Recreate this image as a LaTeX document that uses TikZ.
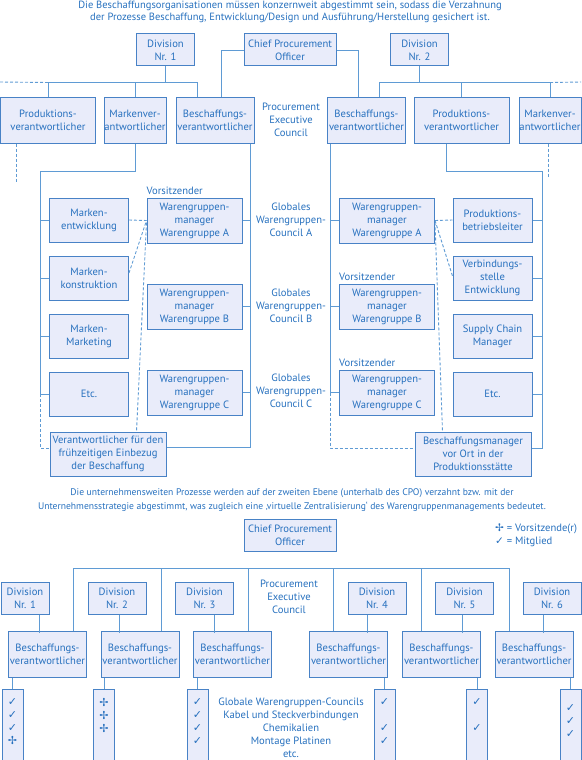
\documentclass[tikz,border=0pt]{standalone}
\usepackage{fontspec}
\setmainfont{PT Sans}
\newfontfamily\symfont{DejaVu Sans}
\usepackage{tikz}
\usetikzlibrary{positioning}

\definecolor{linecol}{RGB}{95,155,212}
\definecolor{boxcol}{RGB}{72,130,198}
\definecolor{fillcol}{RGB}{233,236,250}
\definecolor{textcol}{RGB}{38,112,190}

\begin{document}
\begin{tikzpicture}[x=1pt,y=-1pt,
  font=\fontsize{10.6}{13}\selectfont, text=textcol,
  box/.style={draw=boxcol,fill=fillcol,line width=1pt,align=center,inner sep=1pt},
  div/.style={box,minimum width=58,minimum height=32},
  cpo/.style={box,minimum width=92,minimum height=32},
  role/.style={box,minimum width=78,minimum height=46},
  wide/.style={box,minimum width=95,minimum height=46},
  col/.style={box,minimum width=79,minimum height=44},
  wgm/.style={box,minimum width=95,minimum height=45},
  low/.style={box,minimum width=116,minimum height=44},
  chk/.style={box,minimum width=21,minimum height=80,anchor=north},
  marks/.style={align=center,inner sep=0pt,font=\symfont\fontsize{11}{13}\selectfont},
  conn/.style={draw=linecol,line width=0.9pt},
  dline/.style={conn,dashed,dash pattern=on 3pt off 2pt},
  txt/.style={align=center,inner sep=0pt},
  lbl/.style={anchor=south west,inner xsep=0pt,inner ysep=3pt},
  headtxt/.style={txt,font=\fontsize{10.5}{12}\selectfont}]

\useasboundingbox (0,0) rectangle (581,760);

% ---------- upper chart ----------
\node[headtxt] (Head_1) at (290,12) {Die Beschaffungsorganisationen müssen konzernweit abgestimmt sein, sodass die Verzahnung\\der Prozesse Beschaffung, Entwicklung/Design und Ausführung/Herstellung gesichert ist.};

\node[div] (Div_1) at (165.5,50) {Division\\Nr. 1};
\node[cpo] (CPO_1) at (290,50) {Chief Procurement\\Officer};
\node[div] (Div_2) at (419.5,50) {Division\\Nr. 2};

\node[wide] (Prod_L) at (48,120) {Produktions-\\verantwortlicher};
\node[box,minimum width=62,minimum height=46,inner xsep=0pt] (Mark_L) at (135,120) {Markenver-\\antwortlicher};
\node[role] (Besch_L) at (215,120) {Beschaffungs-\\verantwortlicher};
\node[txt] (PEC_1) at (291,120) {Procurement\\Executive\\Council};
\node[role] (Besch_R) at (366.5,120) {Beschaffungs-\\verantwortlicher};
\node[wide] (Prod_R) at (461.5,120) {Produktions-\\verantwortlicher};
\node[box,minimum width=62,minimum height=46,inner xsep=0pt] (Mark_R) at (550,120) {Markenver-\\antwortlicher};

\coordinate (Edge_L) at (0,82);
\coordinate (Edge_R) at (581,82);
\coordinate (Stub_L) at (16,182);
\coordinate (Stub_R) at (548,178);

\draw[conn] (Div_1.south) -- ++(0,16) coordinate (Bus_1);
\draw[conn] (Prod_L.north) -- (Prod_L.north |- Bus_1) -| ([xshift=22pt]Besch_L.north west);
\draw[conn] (Mark_L.north) -- (Mark_L.north |- Bus_1);
\draw[conn] (CPO_1.west) -| ([xshift=46pt]Besch_L.north west);
\draw[conn] (CPO_1.east) -| ([xshift=31pt]Besch_R.north west);
\draw[conn] (Div_2.south) -- ++(0,16) coordinate (Bus_2);
\draw[conn] ([xshift=52pt]Besch_R.north west) |- (Mark_R.north |- Bus_2) -- (Mark_R.north);
\draw[conn] (Prod_R.north) -- (Prod_R.north |- Bus_2);
\draw[dline] (Prod_L.north |- Bus_1) -- (Edge_L);
\draw[dline] (Mark_R.north |- Bus_2) -- (Edge_R);
\draw[dline] (Prod_L.south -| Stub_L) -- (Stub_L);
\draw[dline] (Mark_R.south -| Stub_R) -- (Stub_R);

% left division
\node[col] (Mark_E) at (89,220) {Marken-\\entwicklung};
\node[col] (Mark_K) [below=13pt of Mark_E] {Marken-\\konstruktion};
\node[col] (Mark_M) [below=13pt of Mark_K] {Marken-\\Marketing};
\node[col] (Etc_L) [below=13pt of Mark_M] {Etc.};
\node[low] (Verantw) at (108,454) {Verantwortlicher für den\\frühzeitigen Einbezug\\der Beschaffung};

\node[wgm] (WGM_LA) at (194.5,220.5) {Warengruppen-\\manager\\Warengruppe A};
\node[wgm] (WGM_LB) [below=40pt of WGM_LA] {Warengruppen-\\manager\\Warengruppe B};
\node[wgm] (WGM_LC) [below=40pt of WGM_LB] {Warengruppen-\\manager\\Warengruppe C};
\node[lbl] (Vors_LA) at (WGM_LA.north west) {Vorsitzender};

% councils
\node[txt] (GWC_A) at (291,220) {Globales\\Warengruppen-\\Council A};
\node[txt] (GWC_B) at (291,306) {Globales\\Warengruppen-\\Council B};
\node[txt] (GWC_C) at (291,391) {Globales\\Warengruppen-\\Council C};

% right division
\node[wgm] (WGM_RA) at (387,220.5) {Warengruppen-\\manager\\Warengruppe A};
\node[wgm] (WGM_RB) [below=40pt of WGM_RA] {Warengruppen-\\manager\\Warengruppe B};
\node[wgm] (WGM_RC) [below=40pt of WGM_RB] {Warengruppen-\\manager\\Warengruppe C};
\node[lbl] (Vors_RB) at (WGM_RB.north west) {Vorsitzender};
\node[lbl] (Vors_RC) at (WGM_RC.north west) {Vorsitzender};

\node[col] (Prod_B) at (492.5,220) {Produktions-\\betriebsleiter};
\node[col] (Verb) [below=13pt of Prod_B] {Verbindungs-\\stelle\\Entwicklung};
\node[col] (SCM) [below=13pt of Verb] {Supply Chain\\Manager};
\node[col] (Etc_R) [below=13pt of SCM] {Etc.};
\node[low] (BM) at (473,454) {Beschaffungsmanager\\vor Ort in der\\Produktionsstätte};

% trunks
\coordinate (Trunk_L) at (40,171);
\coordinate (Trunk_C) at ([xshift=-4pt]Besch_L.south east);
\coordinate (Trunk_D) at ([xshift=3pt]Besch_R.south west);
\coordinate (Trunk_R) at (542,171);

\draw[conn] (Mark_L.south) |- (Trunk_L) |- (Etc_L.west);
\draw[conn] (Mark_E.west) -- (Mark_E.west -| Trunk_L);
\draw[conn] (Mark_K.west) -- (Mark_K.west -| Trunk_L);
\draw[conn] (Mark_M.west) -- (Mark_M.west -| Trunk_L);
\draw[dline] (Etc_L.west -| Trunk_L) |- ([yshift=6pt]Verantw.west);

\draw[conn] (Trunk_C) |- ([yshift=7pt]Verantw.east);
\draw[conn] (WGM_LA.east) -- (WGM_LA.east -| Trunk_C);
\draw[conn] (WGM_LB.east) -- (WGM_LB.east -| Trunk_C);
\draw[conn] (WGM_LC.east) -- (WGM_LC.east -| Trunk_C);

\draw[conn] (Trunk_D) |- (WGM_RC.west);
\draw[conn] (WGM_RA.west) -- (WGM_RA.west -| Trunk_D);
\draw[conn] (WGM_RB.west) -- (WGM_RB.west -| Trunk_D);
\draw[dline] (WGM_RC.west -| Trunk_D) |- ([yshift=6pt]BM.west);

\draw[conn] ([xshift=-15.5pt]Prod_R.south) |- (Trunk_R) |- ([yshift=6pt]BM.east);
\draw[conn] (Prod_B.east) -- (Prod_B.east -| Trunk_R);
\draw[conn] (Verb.east) -- (Verb.east -| Trunk_R);
\draw[conn] (SCM.east) -- (SCM.east -| Trunk_R);
\draw[conn] (Etc_R.east) -- (Etc_R.east -| Trunk_R);

% dotted links
\draw[dline] (Mark_E.east) -- (WGM_LA.west);
\draw[dline] ([yshift=5pt]Mark_K.east) -- (WGM_LA.west);
\draw[dline] ([yshift=-2pt]WGM_LA.west) -- ([xshift=87pt]Verantw.north west);
\draw[dline] (WGM_RA.east) -- (Prod_B.west);
\draw[dline] (WGM_RA.east) -- ([yshift=2pt]Verb.west);
\draw[dline] ([yshift=-2pt]WGM_RA.east) -- ([xshift=28pt]BM.north west);

% ---------- lower chart ----------
\node[headtxt,font=\fontsize{9.6}{13.5}\selectfont] (Head_2) at (292,500) {Die unternehmensweiten Prozesse werden auf der zweiten Ebene (unterhalb des CPO) verzahnt bzw. mit der\\Unternehmensstrategie abgestimmt, was zugleich eine ‚virtuelle Zentralisierung‘ des Warengruppenmanagements bedeutet.};

\node[cpo] (CPO_2) at (290,535) {Chief Procurement\\Officer};
\node[anchor=west,inner sep=0pt] (Leg_1) at (495,529) {{\symfont\fontsize{10.5}{11}\selectfont ✢} = Vorsitzende(r)};
\node[anchor=west,inner sep=0pt] (Leg_2) at (495,542) {{\symfont\fontsize{10.5}{11}\selectfont ✓} = Mitglied};

\node[box,minimum width=48,minimum height=32] (Div_B1) at (25,598) {Division\\Nr. 1};
\node[div] (Div_B2) at (117,598) {Division\\Nr. 2};
\node[div] (Div_B3) at (204.5,598) {Division\\Nr. 3};
\node[txt] (PEC_2) at (289,597) {Procurement\\Executive\\Council};
\node[div] (Div_B4) at (377,598) {Division\\Nr. 4};
\node[div] (Div_B5) at (464.5,598) {Division\\Nr. 5};
\node[div] (Div_B6) at (552,598) {Division\\Nr. 6};

\node[role] (Besch_1) at (47.5,654.5) {Beschaffungs-\\verantwortlicher};
\node[role] (Besch_2) at (140,654.5) {Beschaffungs-\\verantwortlicher};
\node[role] (Besch_3) at (232.5,654.5) {Beschaffungs-\\verantwortlicher};
\node[role] (Besch_4) at (348.5,654.5) {Beschaffungs-\\verantwortlicher};
\node[role] (Besch_5) at (441.5,654.5) {Beschaffungs-\\verantwortlicher};
\node[role] (Besch_6) at (534,654.5) {Beschaffungs-\\verantwortlicher};

\coordinate (Bus_3) at (73,568);
\coordinate (Bus_4) at (509,568);
\draw[conn] (Besch_1.north -| Bus_3) -- (Bus_3) -- (Bus_4) -- (Besch_6.north -| Bus_4);
\draw[conn] ([xshift=21pt]Besch_2.north) |- (Bus_3);
\draw[conn] ([xshift=15.5pt]Besch_3.north) |- (Bus_3);
\draw[conn] ([xshift=-15.5pt]Besch_4.north) |- (Bus_4);
\draw[conn] ([xshift=-20.5pt]Besch_5.north) |- (Bus_4);

\draw[conn] ([xshift=14pt]Div_B1.south) -- ++(0,18);
\draw[conn] ([xshift=2pt]Div_B2.south) -- ++(0,18);
\draw[conn] ([xshift=9.5pt]Div_B3.south) -- ++(0,18);
\draw[conn] ([xshift=-10pt]Div_B4.south) -- ++(0,18);
\draw[conn] ([xshift=-2.5pt]Div_B5.south) -- ++(0,18);
\draw[conn] ([xshift=-9pt]Div_B6.south) -- ++(0,18);

\node[chk] (Chk_1) at (12.5,689) {};
\node[chk] (Chk_2) at (104,689) {};
\node[chk] (Chk_3) at (197.5,689) {};
\node[chk] (Chk_4) at (384.5,689) {};
\node[chk] (Chk_5) at (477,689) {};
\node[chk] (Chk_6) at (570.5,689) {};

\draw[conn] (Chk_1.north |- Besch_1.south) -- (Chk_1.north);
\draw[conn] (Chk_2.north |- Besch_2.south) -- (Chk_2.north);
\draw[conn] (Chk_3.north |- Besch_3.south) -- (Chk_3.north);
\draw[conn] (Chk_4.north |- Besch_4.south) -- (Chk_4.north);
\draw[conn] (Chk_5.north |- Besch_5.south) -- (Chk_5.north);
\draw[conn] (Chk_6.north |- Besch_6.south) -- (Chk_6.north);

\node[marks,below=9pt of Chk_1.north] (Mk_1) {✓\\✓\\✓\\✢};
\node[marks,below=9pt of Chk_2.north] (Mk_2) {✢\\✢\\✢\\\mbox{}};
\node[marks,below=9pt of Chk_3.north] (Mk_3) {✓\\✓\\✓\\✓};
\node[marks,below=9pt of Chk_4.north] (Mk_4) {✓\\\mbox{}\\✓\\✓};
\node[marks,below=9pt of Chk_5.north] (Mk_5) {✓\\\mbox{}\\✓\\\mbox{}};
\node[marks,below=9pt of Chk_6.north] (Mk_6) {\mbox{}\\✓\\✓\\✓};

\node[txt] (GWC_all) at (291,728) {Globale Warengruppen-Councils\\Kabel und Steckverbindungen\\Chemikalien\\Montage Platinen\\etc.};

\end{tikzpicture}
\end{document}
